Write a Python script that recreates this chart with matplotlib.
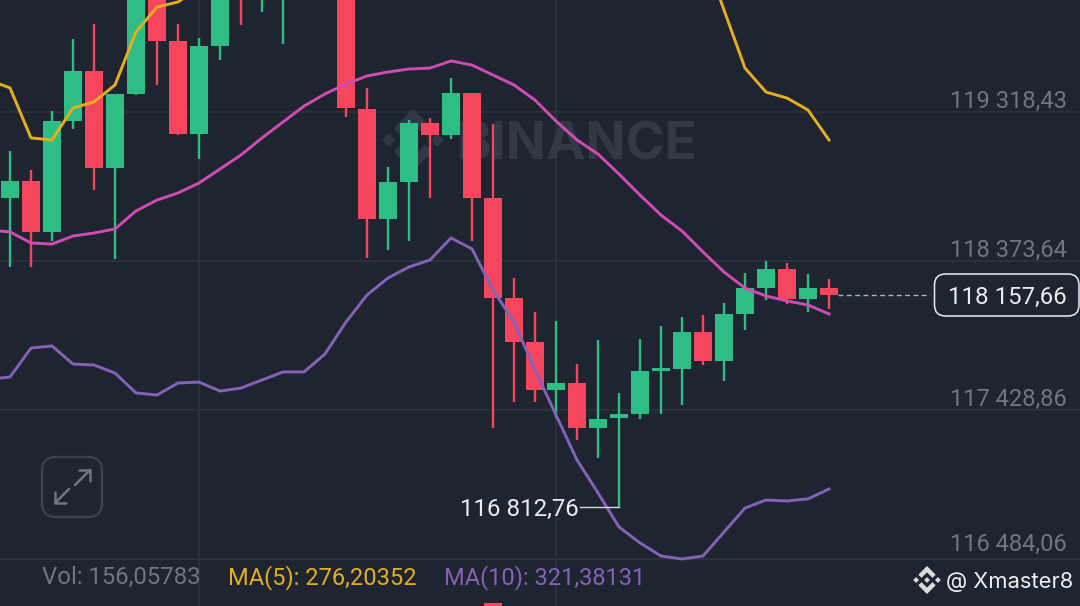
import matplotlib
matplotlib.use("Agg")
import matplotlib.pyplot as plt
from matplotlib.patches import FancyBboxPatch, Polygon
from matplotlib.transforms import Affine2D, blended_transform_factory
import numpy as np

# candle values, index 0 is the first candle on the left
opens = [118773, 118881, 118558, 119261, 119578, 118963, 119433, 120124, 119769, 119179,
         119737, 120282, 120092, 120079, 120409, 120219, 120155, 119337, 118640, 118875,
         119249, 119173, 119439, 118773, 118139, 117860, 117556, 117600, 117315, 117378,
         117404, 117676, 117689, 117923, 117740, 118038, 118202, 118323, 118133, 118202]
closes = [118881, 118558, 119261, 119578, 118963, 119433, 120092, 119769, 119179, 119737,
          120092, 120092, 120282, 120282, 120219, 120409, 119344, 118640, 118875, 119249,
          119173, 119439, 118773, 118139, 117860, 117556, 117600, 117315, 117372, 117404,
          117676, 117695, 117923, 117740, 118038, 118202, 118323, 118133, 118202, 118157.66]
highs = [119071, 118951, 119325, 119781, 119876, 119433, 120155, 120187, 119876, 119788,
         120155, 120314, 120314, 120314, 120440, 120440, 120187, 119471, 118970, 119268,
         119280, 119534, 119439, 119242, 118266, 118050, 117993, 117720, 117873, 117537,
         117879, 117962, 118019, 118031, 118107, 118298, 118374, 118361, 118291, 118260]
lows = [118336, 118336, 118500, 119211, 118824, 118386, 119425, 119490, 119173, 119020,
        119648, 119870, 119953, 119750, 120200, 120200, 119287, 118393, 118443, 118500,
        118773, 119147, 118500, 117315, 117480, 117480, 117378, 117239, 117125, 116812.76,
        117372, 117404, 117461, 117714, 117613, 117936, 118126, 118101, 118050, 118069]

# line values start one candle before the first candle (off the left edge)
upper_band = [119521, 119471, 119154, 119141, 119344, 119382, 119490, 119826, 119984, 120016,
              120105, None, None, None, None, None, None, None, None, None,
              None, None, None, None, None, None, None, None, None, None,
              None, None, None, None, 120346, 119965, 119597, 119445, 119407, 119331,
              119141]
middle_band = [118570, 118558, 118488, 118481, 118532, 118551, 118577, 118691, 118760, 118805,
               118868, 118957, 119046, 119154, 119255, 119356, 119433, 119496, 119547, 119572,
               119591, 119597, 119642, 119616, 119553, 119490, 119394, 119261, 119141, 119052,
               118925, 118792, 118665, 118564, 118431, 118304, 118202, 118152, 118120, 118095,
               118038]
lower_band = [117625, 117638, 117822, 117835, 117720, 117714, 117663, 117537, 117524, 117600,
              117606, 117549, 117568, 117619, 117670, 117670, 117784, 117987, 118158, 118266,
              118336, 118380, 118520, 118450, 118190, 117987, 117683, 117397, 117112, 116903,
              116687, 116586, 116503, 116484, 116503, 116655, 116807, 116858, 116852, 116865,
              116928]

y_ticks = [119318.43, 118373.64, 117428.86, 116484.06]
y_tick_labels = ["119 318,43", "118 373,64", "117 428,86", "116 484,06"]
last_price = 118157.66
last_label = "118 157,66"
low_price = 116812.76
low_label = "116 812,76"
low_index = 29
volume_index = 23
volume_top = 116205

BG = "#1f2530"
GRID = "#2b303b"
GREEN = "#2ebd85"
RED = "#f6465d"
YELLOW = "#e5ae1e"
PINK = "#d04cb2"
PURPLE = "#8462b8"
GRAY = "#6f7681"
WATERMARK = "#333944"

plt.rcParams["font.family"] = ["Roboto", "DejaVu Sans"]

fig = plt.figure(figsize=(10.8, 6.06), dpi=100, facecolor=BG)
ax = fig.add_axes([0, 0, 1, 1], facecolor=BG)
ax.set_xlim(-10 / 21, 1070 / 21)
ax.set_ylim(116186, 120028.6)
ax.axis("off")

# pixel coords of the picture, y going down
px = Affine2D().scale(1, -1).translate(0, 606)
px_y = blended_transform_factory(px, ax.transData)


def draw_logo(cx, cy, r, color, zorder):
    def diamond(x, y, d):
        return [(x, y + d), (x + d, y), (x, y - d), (x - d, y)]
    top = [(0, 1), (0.62, 0.38), (0.39, 0.15), (0, 0.54), (-0.39, 0.15), (-0.62, 0.38)]
    bottom = [(x, -y) for x, y in top]
    for shape in [top, bottom, diamond(0, 0, 0.21), diamond(-0.78, 0, 0.21), diamond(0.78, 0, 0.21)]:
        pts = [(cx + x * r, cy - y * r) for x, y in shape]
        ax.add_patch(Polygon(pts, closed=True, facecolor=color, edgecolor="none",
                             transform=px, zorder=zorder))


# grid
for t in y_ticks:
    ax.axhline(t, color=GRID, lw=1.5, zorder=1)
for x in [9, 26]:
    ax.axvline(x, color=GRID, lw=1.5, zorder=1)

# watermark
draw_logo(413, 140, 31, WATERMARK, 2)
ax.text(456, 140, "BINANCE", color=WATERMARK, fontsize=38, fontweight="bold", family="Inter",
        ha="left", va="center_baseline", transform=px, zorder=2)

# candles
idx = np.arange(len(opens))
o = np.array(opens)
c = np.array(closes)
colors = [GREEN if c[i] >= o[i] else RED for i in idx]
ax.vlines(idx, lows, highs, colors=colors, lw=1.7, zorder=3)
ax.bar(idx, np.abs(c - o), bottom=np.minimum(o, c), width=0.89, color=colors, zorder=3)

# bands
line_x = np.arange(-1, len(opens))
for values, col in [(upper_band, YELLOW), (middle_band, PINK), (lower_band, PURPLE)]:
    arr = np.array([np.nan if v is None else v for v in values], dtype=float)
    ax.plot(line_x, arr, color=col, lw=2.1, zorder=4, solid_joinstyle="round")

# volume pane, only the top of one bar shows
ax.bar([volume_index], [volume_top - 116186], bottom=116186, width=0.89, color=RED, zorder=3)

# y labels
label_px = [99, 248, 397, 542]
for lab, y in zip(y_tick_labels, label_px):
    ax.text(1067, y, lab, color=GRAY, fontsize=17.1, ha="right", va="center_baseline",
            transform=px, zorder=5)

# last price tag
ax.plot([838, 930], [last_price, last_price], color="#aeb4bc", lw=1, ls=(0, (3.5, 2.5)),
        transform=px_y, zorder=4)
ax.add_patch(FancyBboxPatch((934.5, 274), 144.5, 42, boxstyle="round,pad=0,rounding_size=11",
                            facecolor=BG, edgecolor="#eaecef", lw=1.1, transform=px, zorder=5))
ax.text(1007, 295, last_label, color="#eaecef", fontsize=17.3, ha="center", va="center_baseline",
        transform=px, zorder=6)

# lowest price marker
low_x = ax.transData.transform((low_index, low_price))[0]
ax.plot([580, low_x], [low_price, low_price], color="#d5d8dc", lw=1, transform=px_y, zorder=5)
ax.text(579, 507, low_label, color="#eaecef", fontsize=17.3, ha="right", va="center_baseline",
        transform=px, zorder=6)

# expand button
ax.add_patch(FancyBboxPatch((42, 457), 60, 60, boxstyle="round,pad=0,rounding_size=14",
                            facecolor="none", edgecolor="#3a404c", lw=1.7, transform=px, zorder=5))
for xs, ys in [([75, 90], [485, 470]), ([79, 90, 90], [470, 470, 481]),
               ([69, 55], [489, 503]), ([55, 55, 66], [492, 503, 503])]:
    ax.plot(xs, ys, color=GRAY, lw=1.8, transform=px, zorder=5, solid_capstyle="round")

# legend row
ax.text(42, 575, "Vol: 156,05783", color=GRAY, fontsize=17.2, va="center_baseline", transform=px, zorder=6)
ax.text(228, 575, "MA(5): 276,20352", color=YELLOW, fontsize=17, va="center_baseline", transform=px, zorder=6)
ax.text(444, 575, "MA(10): 321,38131", color=PURPLE, fontsize=17, va="center_baseline", transform=px, zorder=6)

# author mark
draw_logo(927, 580, 14, "#d9dbde", 6)
ax.text(946, 580, "@ Xmaster8", color="#eef0f2", fontsize=15.8, family="Inter", va="center_baseline",
        transform=px, zorder=6)

fig.savefig("out.png", dpi=100, facecolor=BG)
